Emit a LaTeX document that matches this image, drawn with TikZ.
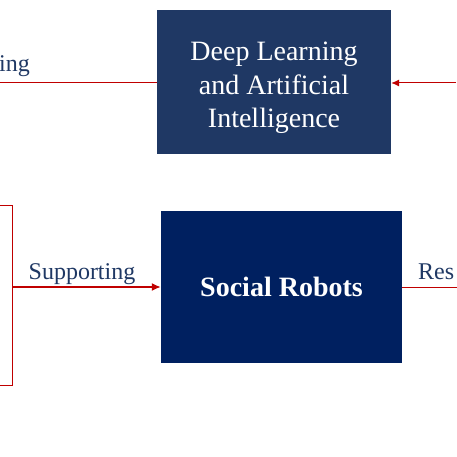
\documentclass[tikz,border=0pt]{standalone}
\usepackage{fontspec}
\setmainfont{Liberation Serif}
\usetikzlibrary{arrows.meta, calc, positioning}

\definecolor{boxblue}{HTML}{1F3864}
\definecolor{navyblue}{HTML}{002060}
\definecolor{linkred}{HTML}{C00000}
\definecolor{labelblue}{HTML}{1F3864}

\begin{document}
\begin{tikzpicture}[x=1pt, y=-1pt,
  block/.style={rectangle, inner sep=0pt, text=white, align=center, font=\fontsize{28}{33.5}\selectfont},
  link/.style={draw=linkred, line width=1pt},
  tag/.style={text=labelblue, inner sep=0pt, font=\fontsize{24}{28}\selectfont}]
\useasboundingbox (0,0) rectangle (457,457);
% Blocks
\node[block, fill=boxblue, minimum width=234pt, minimum height=144pt] (dlai) at (274,82) {\raisebox{-12pt}[0pt][0pt]{\begin{tabular}{@{}c@{}}Deep Learning\\and Artificial\\Intelligence\end{tabular}}};
\node[block, fill=navyblue, minimum width=241pt, minimum height=152pt, font=\fontsize{28}{33.5}\selectfont\bfseries] (robots) at (281.5,287) {Social Robots};
\node[rectangle, draw=linkred, line width=0.8pt, fill=white, minimum width=112pt, minimum height=180pt] (left) at (-44,295) {};

% Free ends
\coordinate (inL) at (0,83);
\coordinate (inR) at (456,83);
\coordinate (outR) at (457,287);

% Links
\draw[link] (dlai.west |- inL) -- (inL);
\draw[link, -{Latex[length=8pt, width=7pt]}] (inR) -- (dlai.east |- inR);
\draw[link, line width=1.6pt, -{Latex[length=9pt, width=8pt]}] (left.east |- robots.west) -- (robots.west);
\draw[link] (robots.east) -- (outR);

% Labels
\node[tag, anchor=base east] (ingtag) at (30,72) {ing};
\node[tag, anchor=base] (suptag) at (82,279) {Supporting};
\node[tag, anchor=base west] (restag) at (418,279) {Res};
\end{tikzpicture}
\end{document}
